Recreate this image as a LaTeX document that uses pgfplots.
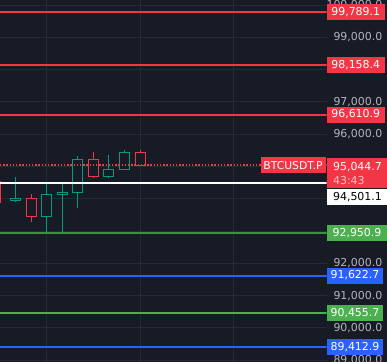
\documentclass[border=0pt]{standalone}
\usepackage{fontspec}
\setmainfont{DejaVu Sans}
\usepackage{pgfplots}
\pgfplotsset{compat=1.18}
\definecolor{bg}{HTML}{171B26}
\definecolor{gridc}{HTML}{262A35}
\definecolor{tvred}{HTML}{F23645}
\definecolor{tvgreen}{HTML}{4CAF50}
\definecolor{tvgreenD}{HTML}{3F9142}
\definecolor{tvblue}{HTML}{2962FF}
\definecolor{cup}{HTML}{089981}
\definecolor{tickc}{HTML}{B2B5BE}
\definecolor{pinkc}{HTML}{FCC2C7}
% left, centre, right, body low, body high, low, high, colour
\newcommand\candle[8]{%
  \addplot[#8, line width=1bp] coordinates {(#2,#6) (#2,#4)};
  \addplot[#8, line width=1bp] coordinates {(#2,#5) (#2,#7)};
  \addplot[#8, line width=1bp, fill=bg] coordinates {(#1,#4) (#3,#4) (#3,#5) (#1,#5)} -- cycle;}
\begin{document}
\begin{tikzpicture}
\path[use as bounding box] (0,0) rectangle (387bp,362bp);
\clip (0,0) rectangle (387bp,362bp);
\fill[bg] (0,0) rectangle (387bp,362bp);
\begin{axis}[
  at={(0,0)}, anchor=south west,
  width=326.5bp, height=362bp, scale only axis,
  xmin=0, xmax=326.5, ymin=88942.9, ymax=100160.9,
  axis line style={draw=none}, tick style={draw=none},
  xtick={46.3,140.3,233.3}, xticklabels={},
  ytick={89000,90000,91000,92000,93000,94000,95000,96000,97000,98000,99000,100000},
  yticklabels={{89,000.0},{90,000.0},{91,000.0},{92,000.0},{},{},{},{96,000.0},{97,000.0},{},{99,000.0},{100,000.0}},
  yticklabel pos=right,
  yticklabel style={anchor=east, inner sep=0pt, xshift=56bp, text=tickc,
    font=\fontsize{11}{12}\selectfont},
  grid=major, grid style={gridc, line width=1bp},
  clip mode=individual,
]
% candles
\candle{-8.75}{-4}{0.75}{93892}{94530}{93850}{94600}{tvred}
\candle{10.55}{15.3}{20.05}{93941.6}{94016}{93910.6}{94685}{cup}
\candle{26.55}{31.3}{36.05}{93458}{94016}{93291}{94149}{tvred}
\candle{41.55}{46.3}{51.05}{93458}{94140}{92950.9}{94481}{cup}
\candle{57.55}{62.3}{67.05}{94140}{94202}{92950.9}{94521}{cup}
\candle{72.55}{77.3}{82.05}{94202}{95224.5}{93725}{95327}{cup}
\candle{88.55}{93.3}{98.05}{94698}{95224.5}{94654}{95451}{tvred}
\candle{103.55}{108.3}{113.05}{94698}{94914.6}{94654}{95358}{cup}
\candle{119.55}{124.3}{129.05}{94914.6}{95441}{94914.6}{95513}{cup}
\candle{135.55}{140.3}{145.05}{95044.7}{95441}{95044.7}{95513}{tvred}
% level lines
\addplot[tvred, line width=2bp] coordinates {(0,99789.1) (326.5,99789.1)};
\addplot[tvred, line width=2bp] coordinates {(0,98158.4) (326.5,98158.4)};
\addplot[tvred, line width=2bp] coordinates {(0,96610.9) (326.5,96610.9)};
\addplot[tvred, line width=1.4bp, dash pattern=on 1.4bp off 1.8bp] coordinates {(0,95044.7) (326.5,95044.7)};
\addplot[white, line width=2bp] coordinates {(0,94501.1) (326.5,94501.1)};
\addplot[tvgreenD, line width=2bp] coordinates {(0,92950.9) (326.5,92950.9)};
\addplot[tvblue, line width=2bp] coordinates {(0,91622.7) (326.5,91622.7)};
\addplot[tvgreen, line width=2bp] coordinates {(0,90455.7) (326.5,90455.7)};
\addplot[tvblue, line width=2bp] coordinates {(0,89412.9) (326.5,89412.9)};
% price labels
\tikzset{lbl/.style={anchor=west, minimum height=16bp, inner sep=0pt, text=white,
    font=\fontsize{11}{12}\selectfont, xshift=0.3bp}}
\node[lbl, fill=tvred, minimum width=57.5bp] at (axis cs:326.5,99789.1) {99,789.1};
\node[lbl, fill=tvred, minimum width=57.5bp] at (axis cs:326.5,98158.4) {98,158.4};
\node[lbl, fill=tvred, minimum width=57.5bp] at (axis cs:326.5,96610.9) {96,610.9};
\node[anchor=east, fill=tvred, minimum height=16bp, minimum width=65bp, inner sep=0pt, text=white,
    font=\fontsize{10.8}{12}\selectfont, xshift=-0.8bp] at (axis cs:326.5,95044.7) {BTCUSDT.P};
\node[anchor=north west, fill=tvred, minimum height=30.3bp, minimum width=61bp, inner sep=0pt,
    text=white, align=left, font=\fontsize{11}{14.3}\selectfont, yshift=7.3bp, xshift=0.3bp]
    (pb) at (axis cs:326.5,95044.7) {95,044.7\\\textcolor{pinkc}{43:43}};
\node[anchor=north west, fill=white, minimum height=16.5bp, minimum width=61bp, inner sep=0pt,
    text=black, font=\fontsize{11}{12}\selectfont] at (pb.south west) {94,501.1};
\node[lbl, fill=tvgreen, minimum width=60bp] at (axis cs:326.5,92950.9) {92,950.9};
\node[lbl, fill=tvblue, minimum width=56bp] at (axis cs:326.5,91622.7) {91,622.7};
\node[lbl, fill=tvgreen, minimum width=56bp] at (axis cs:326.5,90455.7) {90,455.7};
\node[lbl, fill=tvblue, minimum width=56bp] at (axis cs:326.5,89412.9) {89,412.9};
\end{axis}
\end{tikzpicture}
\end{document}
